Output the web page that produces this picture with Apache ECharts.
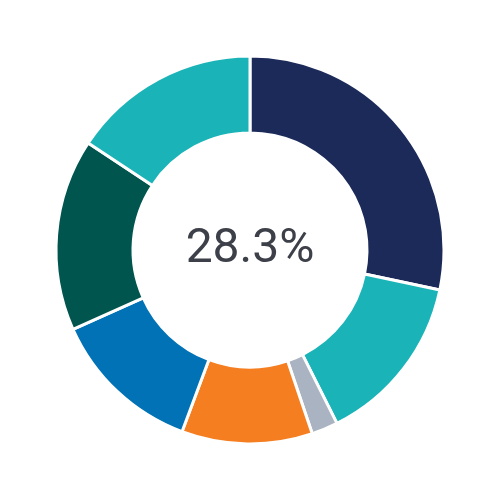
<!DOCTYPE html>
<html><head><meta charset="utf-8">
<script src="https://cdn.jsdelivr.net/npm/echarts@6/dist/echarts.min.js"></script>
<style>html,body{margin:0;padding:0;background:#fff}#c{width:500px;height:500px}</style>
</head><body><div id="c"></div>
<script>
const categories = ['A','B','C','D','E','F','G'];
const values = [28.3, 14.3, 2.2, 10.9, 12.6, 16.0, 15.7];
const colors = ['#1c2a5a','#1ab4b8','#a9b3c1','#f47e20','#0072b5','#00564f','#1ab4b8'];
const centerLabel = '28.3%';
const chart = echarts.init(document.getElementById('c'));
chart.setOption({
  animation: false,
  title: { text: centerLabel, left: 'center', top: 'middle',
    textStyle: { fontFamily: 'Roboto', fontSize: 48, fontWeight: 'normal', color: '#3d4049' } },
  series: [{
    type: 'pie',
    radius: [117, 194],
    center: [250, 250],
    startAngle: 90,
    clockwise: true,
    label: { show: false },
    labelLine: { show: false },
    itemStyle: { borderColor: '#fff', borderWidth: 3 },
    data: categories.map((c, i) => ({ name: c, value: values[i], itemStyle: { color: colors[i] } }))
  }]
});
</script></body></html>
